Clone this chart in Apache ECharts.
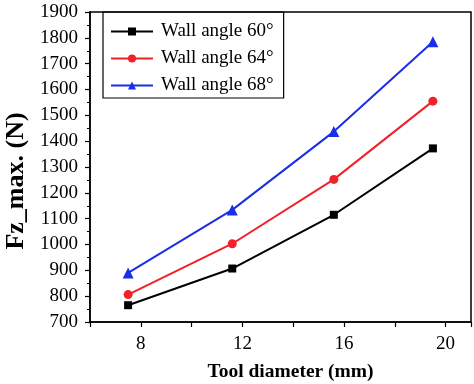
<!DOCTYPE html>
<html>
<head>
<meta charset="utf-8">
<script src="https://cdn.jsdelivr.net/npm/echarts@6/dist/echarts.min.js"></script>
<style>html,body{margin:0;padding:0;background:#fff}#c{width:474px;height:384px}</style>
</head>
<body>
<div id="c"></div>
<script>
var toolDiameter = [7.5, 11.6, 15.6, 19.5];
var seriesNames = ['Wall angle 60°', 'Wall angle 64°', 'Wall angle 68°'];
var wall60 = [765, 907, 1115, 1372];
var wall64 = [806, 1003, 1252, 1555];
var wall68 = [890, 1134, 1437, 1785];
var xTickLabels = [8, 12, 16, 20];

function pairs(xs, ys) { return xs.map(function (x, i) { return [x, ys[i]]; }); }
var font = 'Liberation Serif';
var chart = echarts.init(document.getElementById('c'));
chart.setOption({
  animation: false,
  backgroundColor: '#fff',
  grid: { left: 90, right: 3, top: 12, bottom: 62, show: true, borderColor: '#000', borderWidth: 1.5, backgroundColor: 'transparent',
          containLabel: false, outerBoundsMode: 'none' },
  legend: {
    orient: 'vertical', left: 103, top: 12,
    data: seriesNames,
    borderColor: '#000', borderWidth: 1.2, borderRadius: 0,
    padding: [10, 10, 3, 7], itemGap: 8, itemWidth: 42, itemHeight: 10,
    textStyle: { fontFamily: font, fontSize: 19, color: '#000', padding: [0, 0, 0, 3] }
  },
  xAxis: {
    type: 'value', min: 6, max: 21, interval: 2,
    name: 'Tool diameter (mm)', nameLocation: 'middle', nameGap: 40,
    nameTextStyle: { fontFamily: font, fontSize: 19.5, fontWeight: 'bold', color: '#000', padding: [0, 0, 0, 20] },
    axisLine: { lineStyle: { color: '#000', width: 1.5 } },
    axisTick: { show: true, length: 5, lineStyle: { color: '#000', width: 1.2 } },
    axisLabel: {
      margin: 13, fontFamily: font, fontSize: 19, color: '#000',
      formatter: function (v) { return xTickLabels.indexOf(v) >= 0 ? String(v) : ''; }
    },
    splitLine: { show: false }
  },
  yAxis: {
    type: 'value', min: 700, max: 1900, interval: 100,
    name: 'Fz_max. (N)', nameLocation: 'middle', nameGap: 59,
    nameTextStyle: { fontFamily: font, fontSize: 26, fontWeight: 'bold', color: '#000', padding: [0, 28, 0, 0] },
    axisLine: { show: true, lineStyle: { color: '#000', width: 1.5 } },
    axisTick: { show: true, length: 5, lineStyle: { color: '#000', width: 1.2 } },
    minorTick: { show: true, splitNumber: 2, length: 3, lineStyle: { color: '#000', width: 1 } },
    axisLabel: { margin: 12, fontFamily: font, fontSize: 19, color: '#000', formatter: function (v) { return String(v); } },
    splitLine: { show: false }
  },
  series: [
    { name: seriesNames[0], type: 'line', data: pairs(toolDiameter, wall60), symbol: 'rect', symbolSize: 8,
      itemStyle: { color: '#000' }, lineStyle: { color: '#000', width: 2 } },
    { name: seriesNames[1], type: 'line', data: pairs(toolDiameter, wall64), symbol: 'circle', symbolSize: 9,
      itemStyle: { color: '#f2202a' }, lineStyle: { color: '#f2202a', width: 2 } },
    { name: seriesNames[2], type: 'line', data: pairs(toolDiameter, wall68), symbol: 'triangle', symbolSize: 11,
      itemStyle: { color: '#1a2ee8' }, lineStyle: { color: '#1a2ee8', width: 2 } }
  ]
});
</script>
</body>
</html>
